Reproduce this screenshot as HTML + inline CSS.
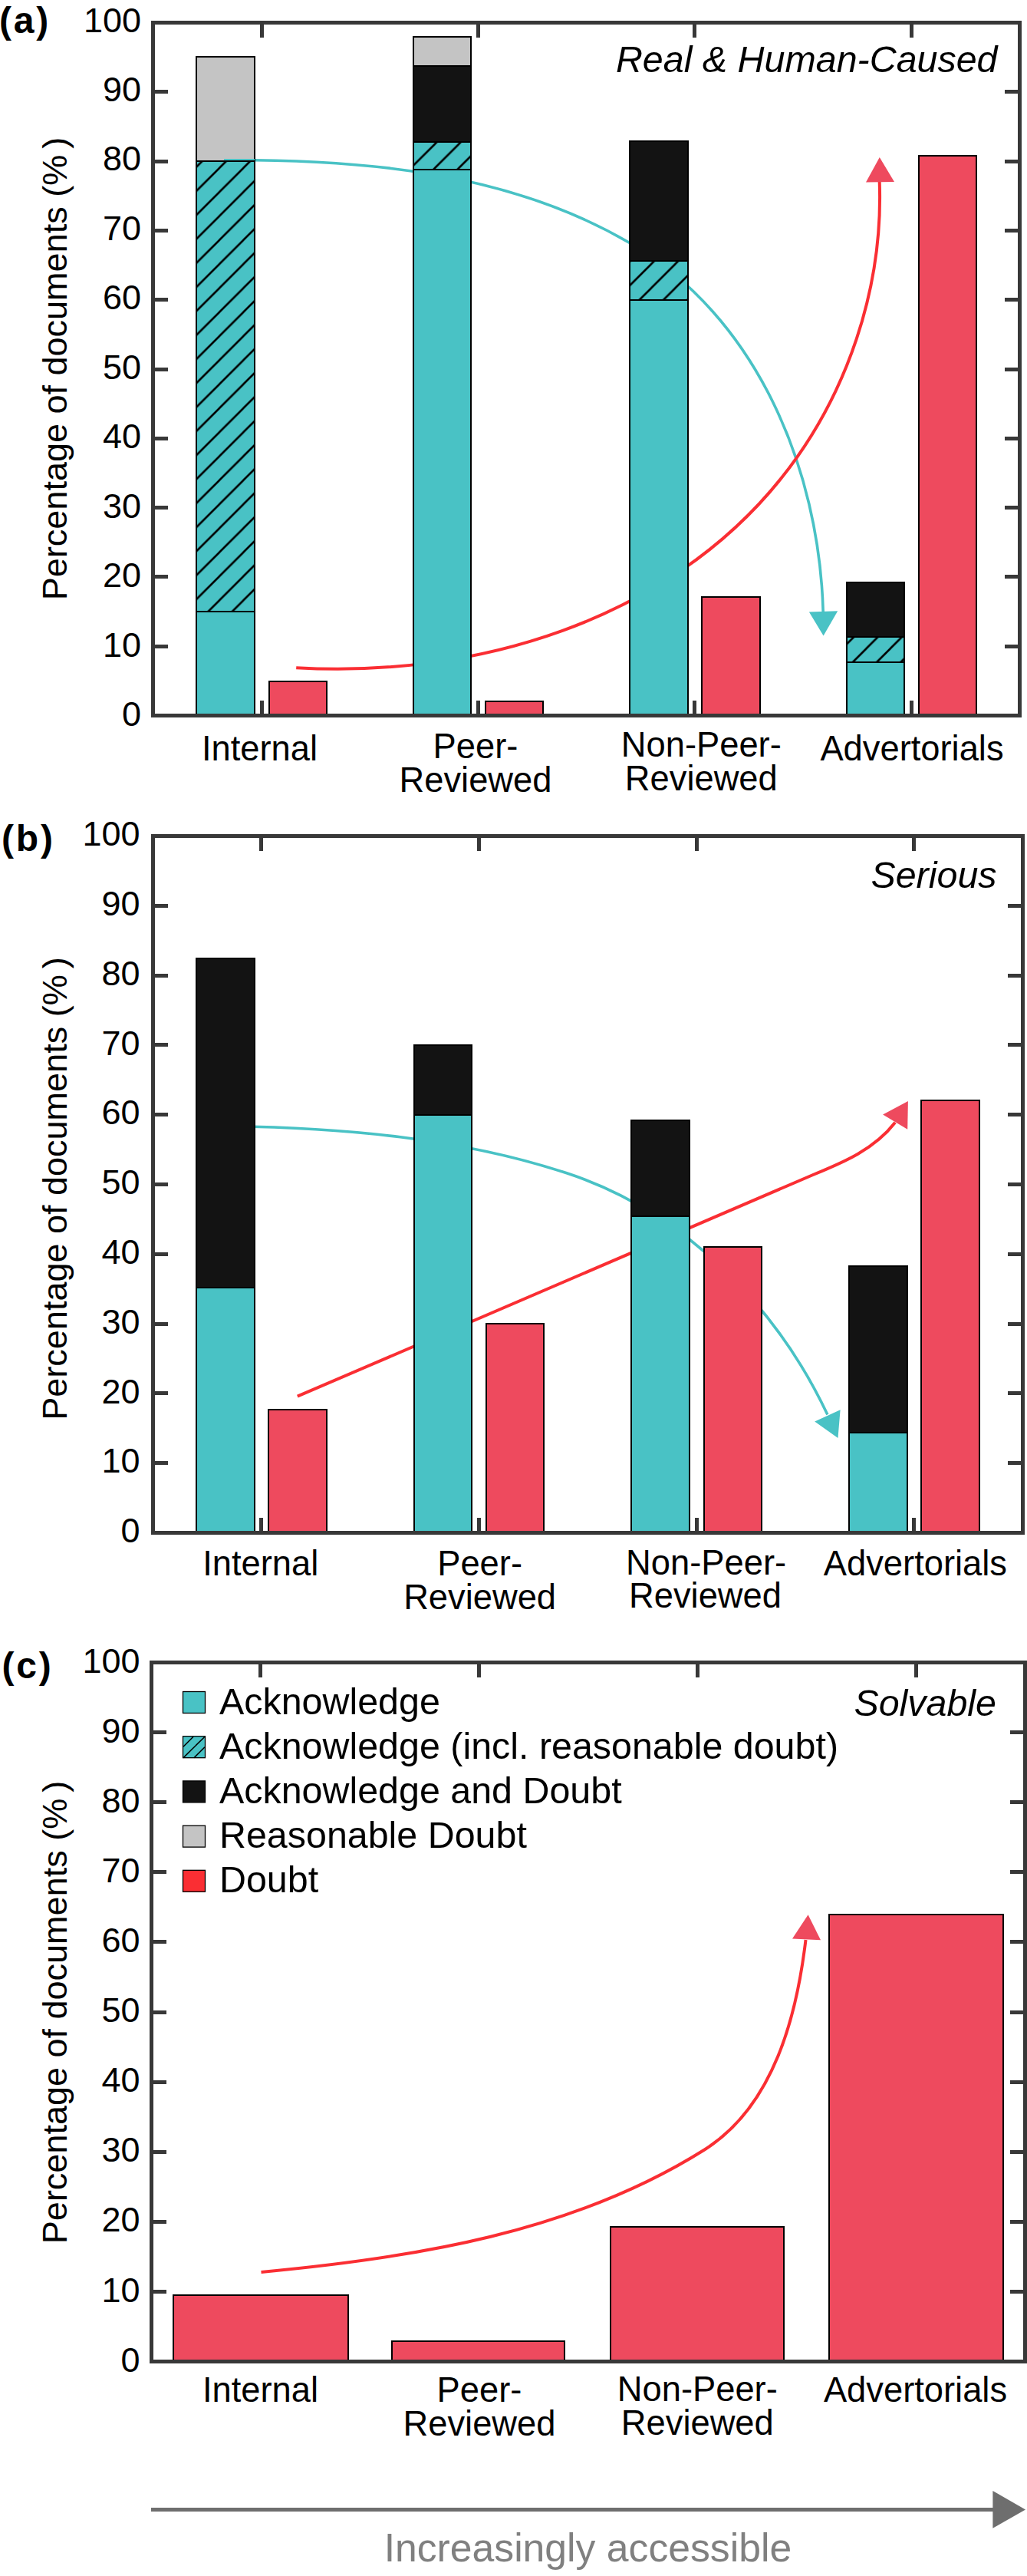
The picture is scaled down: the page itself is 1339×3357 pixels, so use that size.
<!DOCTYPE html>
<html><head><meta charset="utf-8"><style>
html,body{margin:0;padding:0;background:#fff;}
svg{display:block;}
text{font-family:"Liberation Sans",sans-serif;}
</style></head><body>
<svg width="1339" height="3357" viewBox="0 0 1339 3357">
<rect width="1339" height="3357" fill="#fff"/>
<defs>
<pattern id="h0" patternUnits="userSpaceOnUse" x="4.2" y="0" width="31.3" height="31.3"><path d="M-2,2 L2,-2 M0,31.3 L31.3,0 M29.3,33.3 L33.3,29.3" stroke="#000" stroke-width="2.6"/></pattern>
<pattern id="h1" patternUnits="userSpaceOnUse" x="3.5" y="0" width="31.3" height="31.3"><path d="M-2,2 L2,-2 M0,31.3 L31.3,0 M29.3,33.3 L33.3,29.3" stroke="#000" stroke-width="2.6"/></pattern>
<pattern id="h2" patternUnits="userSpaceOnUse" x="3.8" y="0" width="31.3" height="31.3"><path d="M-2,2 L2,-2 M0,31.3 L31.3,0 M29.3,33.3 L33.3,29.3" stroke="#000" stroke-width="2.6"/></pattern>
<pattern id="h3" patternUnits="userSpaceOnUse" x="2.8" y="0" width="31.3" height="31.3"><path d="M-2,2 L2,-2 M0,31.3 L31.3,0 M29.3,33.3 L33.3,29.3" stroke="#000" stroke-width="2.6"/></pattern>
</defs>
<path d="M292.0,208.5 C471.9,207.7 661.5,223.5 820.0,316.0 C987.0,413.4 1067.8,610.2 1073.2,797.0" fill="none" stroke="#49C2C5" stroke-width="3.6"/>
<polygon points="1054.9,797.4 1092.2,796.2 1073.6,828.5" fill="#49C2C5"/>
<path d="M386.2,870.2 C617.9,883.8 869.5,810.0 1018.7,623.1 C1104.7,515.4 1151.7,375.0 1146.7,237.0" fill="none" stroke="#FA2E33" stroke-width="4"/>
<polygon points="1129,237.5 1166,237 1146.8,205" fill="#EE4A5E"/>
<rect x="256" y="797" width="76" height="136" fill="#49C2C5" stroke="#000" stroke-width="2"/>
<rect x="256" y="210" width="76" height="587" fill="#49C2C5" stroke="#000" stroke-width="2"/>
<rect x="256" y="210" width="76" height="587" fill="url(#h0)" stroke="#000" stroke-width="2"/>
<rect x="256" y="74" width="76" height="136" fill="#C4C4C4" stroke="#000" stroke-width="2"/>
<rect x="351" y="888" width="75" height="45" fill="#EE4A5E" stroke="#000" stroke-width="2"/>
<rect x="539" y="221" width="75" height="712" fill="#49C2C5" stroke="#000" stroke-width="2"/>
<rect x="539" y="185" width="75" height="36" fill="#49C2C5" stroke="#000" stroke-width="2"/>
<rect x="539" y="185" width="75" height="36" fill="url(#h1)" stroke="#000" stroke-width="2"/>
<rect x="539" y="86" width="75" height="99" fill="#131313" stroke="#000" stroke-width="2"/>
<rect x="539" y="48" width="75" height="38" fill="#C4C4C4" stroke="#000" stroke-width="2"/>
<rect x="633" y="914" width="75" height="19" fill="#EE4A5E" stroke="#000" stroke-width="2"/>
<rect x="821" y="391" width="76" height="542" fill="#49C2C5" stroke="#000" stroke-width="2"/>
<rect x="821" y="340" width="76" height="51" fill="#49C2C5" stroke="#000" stroke-width="2"/>
<rect x="821" y="340" width="76" height="51" fill="url(#h2)" stroke="#000" stroke-width="2"/>
<rect x="821" y="184" width="76" height="156" fill="#131313" stroke="#000" stroke-width="2"/>
<rect x="915" y="778" width="76" height="155" fill="#EE4A5E" stroke="#000" stroke-width="2"/>
<rect x="1104" y="863" width="75" height="70" fill="#49C2C5" stroke="#000" stroke-width="2"/>
<rect x="1104" y="830" width="75" height="33" fill="#49C2C5" stroke="#000" stroke-width="2"/>
<rect x="1104" y="830" width="75" height="33" fill="url(#h3)" stroke="#000" stroke-width="2"/>
<rect x="1104" y="759" width="75" height="71" fill="#131313" stroke="#000" stroke-width="2"/>
<rect x="1198" y="203" width="75" height="730" fill="#EE4A5E" stroke="#000" stroke-width="2"/>
<rect x="292" y="207" width="40" height="2" fill="#49C2C5"/>
<line x1="199.5" y1="842.5" x2="219" y2="842.5" stroke="#383838" stroke-width="5"/>
<line x1="1329.5" y1="842.5" x2="1310" y2="842.5" stroke="#383838" stroke-width="5"/>
<line x1="199.5" y1="751.5" x2="219" y2="751.5" stroke="#383838" stroke-width="5"/>
<line x1="1329.5" y1="751.5" x2="1310" y2="751.5" stroke="#383838" stroke-width="5"/>
<line x1="199.5" y1="661.5" x2="219" y2="661.5" stroke="#383838" stroke-width="5"/>
<line x1="1329.5" y1="661.5" x2="1310" y2="661.5" stroke="#383838" stroke-width="5"/>
<line x1="199.5" y1="571.5" x2="219" y2="571.5" stroke="#383838" stroke-width="5"/>
<line x1="1329.5" y1="571.5" x2="1310" y2="571.5" stroke="#383838" stroke-width="5"/>
<line x1="199.5" y1="481.5" x2="219" y2="481.5" stroke="#383838" stroke-width="5"/>
<line x1="1329.5" y1="481.5" x2="1310" y2="481.5" stroke="#383838" stroke-width="5"/>
<line x1="199.5" y1="390.5" x2="219" y2="390.5" stroke="#383838" stroke-width="5"/>
<line x1="1329.5" y1="390.5" x2="1310" y2="390.5" stroke="#383838" stroke-width="5"/>
<line x1="199.5" y1="300.5" x2="219" y2="300.5" stroke="#383838" stroke-width="5"/>
<line x1="1329.5" y1="300.5" x2="1310" y2="300.5" stroke="#383838" stroke-width="5"/>
<line x1="199.5" y1="210.5" x2="219" y2="210.5" stroke="#383838" stroke-width="5"/>
<line x1="1329.5" y1="210.5" x2="1310" y2="210.5" stroke="#383838" stroke-width="5"/>
<line x1="199.5" y1="119.5" x2="219" y2="119.5" stroke="#383838" stroke-width="5"/>
<line x1="1329.5" y1="119.5" x2="1310" y2="119.5" stroke="#383838" stroke-width="5"/>
<line x1="341.5" y1="29.5" x2="341.5" y2="49" stroke="#383838" stroke-width="5"/>
<line x1="341.5" y1="932.5" x2="341.5" y2="913" stroke="#383838" stroke-width="5"/>
<line x1="623.5" y1="29.5" x2="623.5" y2="49" stroke="#383838" stroke-width="5"/>
<line x1="623.5" y1="932.5" x2="623.5" y2="913" stroke="#383838" stroke-width="5"/>
<line x1="905.5" y1="29.5" x2="905.5" y2="49" stroke="#383838" stroke-width="5"/>
<line x1="905.5" y1="932.5" x2="905.5" y2="913" stroke="#383838" stroke-width="5"/>
<line x1="1188.5" y1="29.5" x2="1188.5" y2="49" stroke="#383838" stroke-width="5"/>
<line x1="1188.5" y1="932.5" x2="1188.5" y2="913" stroke="#383838" stroke-width="5"/>
<rect x="199.5" y="29.5" width="1130" height="903" fill="none" stroke="#383838" stroke-width="5"/>
<path d="M300.0,1467.5 C447.6,1470.1 597.9,1482.5 738.9,1528.8 C891.2,1578.8 1011.4,1700.6 1078.9,1843.6" fill="none" stroke="#49C2C5" stroke-width="3.6"/>
<polygon points="1062.2,1852.5 1095.6,1837.2 1092.5,1874" fill="#49C2C5"/>
<path d="M387.8,1819.7 L1060,1531 C1099.88,1514.76 1139.68,1498.04 1167.1,1462.8" fill="none" stroke="#FA2E33" stroke-width="4"/>
<polygon points="1151.1,1452.4 1183.9,1435 1183.2,1471.8" fill="#EE4A5E"/>
<rect x="256" y="1678" width="76" height="320" fill="#49C2C5" stroke="#000" stroke-width="2"/>
<rect x="256" y="1249" width="76" height="429" fill="#131313" stroke="#000" stroke-width="2"/>
<rect x="350" y="1837" width="76" height="161" fill="#EE4A5E" stroke="#000" stroke-width="2"/>
<rect x="540" y="1453" width="75" height="545" fill="#49C2C5" stroke="#000" stroke-width="2"/>
<rect x="540" y="1362" width="75" height="91" fill="#131313" stroke="#000" stroke-width="2"/>
<rect x="634" y="1725" width="75" height="273" fill="#EE4A5E" stroke="#000" stroke-width="2"/>
<rect x="823" y="1585" width="76" height="413" fill="#49C2C5" stroke="#000" stroke-width="2"/>
<rect x="823" y="1460" width="76" height="125" fill="#131313" stroke="#000" stroke-width="2"/>
<rect x="918" y="1625" width="75" height="373" fill="#EE4A5E" stroke="#000" stroke-width="2"/>
<rect x="1107" y="1867" width="76" height="131" fill="#49C2C5" stroke="#000" stroke-width="2"/>
<rect x="1107" y="1650" width="76" height="217" fill="#131313" stroke="#000" stroke-width="2"/>
<rect x="1201" y="1434" width="76" height="564" fill="#EE4A5E" stroke="#000" stroke-width="2"/>
<line x1="199.5" y1="1906.5" x2="219" y2="1906.5" stroke="#383838" stroke-width="5"/>
<line x1="1333.5" y1="1906.5" x2="1314" y2="1906.5" stroke="#383838" stroke-width="5"/>
<line x1="199.5" y1="1815.5" x2="219" y2="1815.5" stroke="#383838" stroke-width="5"/>
<line x1="1333.5" y1="1815.5" x2="1314" y2="1815.5" stroke="#383838" stroke-width="5"/>
<line x1="199.5" y1="1725.5" x2="219" y2="1725.5" stroke="#383838" stroke-width="5"/>
<line x1="1333.5" y1="1725.5" x2="1314" y2="1725.5" stroke="#383838" stroke-width="5"/>
<line x1="199.5" y1="1634.5" x2="219" y2="1634.5" stroke="#383838" stroke-width="5"/>
<line x1="1333.5" y1="1634.5" x2="1314" y2="1634.5" stroke="#383838" stroke-width="5"/>
<line x1="199.5" y1="1543.5" x2="219" y2="1543.5" stroke="#383838" stroke-width="5"/>
<line x1="1333.5" y1="1543.5" x2="1314" y2="1543.5" stroke="#383838" stroke-width="5"/>
<line x1="199.5" y1="1452.5" x2="219" y2="1452.5" stroke="#383838" stroke-width="5"/>
<line x1="1333.5" y1="1452.5" x2="1314" y2="1452.5" stroke="#383838" stroke-width="5"/>
<line x1="199.5" y1="1361.5" x2="219" y2="1361.5" stroke="#383838" stroke-width="5"/>
<line x1="1333.5" y1="1361.5" x2="1314" y2="1361.5" stroke="#383838" stroke-width="5"/>
<line x1="199.5" y1="1271.5" x2="219" y2="1271.5" stroke="#383838" stroke-width="5"/>
<line x1="1333.5" y1="1271.5" x2="1314" y2="1271.5" stroke="#383838" stroke-width="5"/>
<line x1="199.5" y1="1180.5" x2="219" y2="1180.5" stroke="#383838" stroke-width="5"/>
<line x1="1333.5" y1="1180.5" x2="1314" y2="1180.5" stroke="#383838" stroke-width="5"/>
<line x1="340.5" y1="1089.5" x2="340.5" y2="1109" stroke="#383838" stroke-width="5"/>
<line x1="340.5" y1="1997.5" x2="340.5" y2="1978" stroke="#383838" stroke-width="5"/>
<line x1="624.5" y1="1089.5" x2="624.5" y2="1109" stroke="#383838" stroke-width="5"/>
<line x1="624.5" y1="1997.5" x2="624.5" y2="1978" stroke="#383838" stroke-width="5"/>
<line x1="908.5" y1="1089.5" x2="908.5" y2="1109" stroke="#383838" stroke-width="5"/>
<line x1="908.5" y1="1997.5" x2="908.5" y2="1978" stroke="#383838" stroke-width="5"/>
<line x1="1191.5" y1="1089.5" x2="1191.5" y2="1109" stroke="#383838" stroke-width="5"/>
<line x1="1191.5" y1="1997.5" x2="1191.5" y2="1978" stroke="#383838" stroke-width="5"/>
<rect x="199.5" y="1089.5" width="1134" height="908" fill="none" stroke="#383838" stroke-width="5"/>
<path d="M340.5,2960.9 C539.2,2942.5 747.0,2909.5 918.9,2801.2 C1009.1,2744.4 1038.9,2626.1 1050.5,2527.9" fill="none" stroke="#FA2E33" stroke-width="4"/>
<polygon points="1033,2526.5 1070,2528.3 1053.6,2495.2" fill="#EE4A5E"/>
<rect x="226" y="2991" width="228" height="87" fill="#EE4A5E" stroke="#000" stroke-width="2"/>
<rect x="511" y="3051" width="225" height="27" fill="#EE4A5E" stroke="#000" stroke-width="2"/>
<rect x="796" y="2902" width="226" height="176" fill="#EE4A5E" stroke="#000" stroke-width="2"/>
<rect x="1081" y="2495" width="227" height="583" fill="#EE4A5E" stroke="#000" stroke-width="2"/>
<line x1="197.5" y1="2986.5" x2="217" y2="2986.5" stroke="#383838" stroke-width="5"/>
<line x1="1336.5" y1="2986.5" x2="1317" y2="2986.5" stroke="#383838" stroke-width="5"/>
<line x1="197.5" y1="2895.5" x2="217" y2="2895.5" stroke="#383838" stroke-width="5"/>
<line x1="1336.5" y1="2895.5" x2="1317" y2="2895.5" stroke="#383838" stroke-width="5"/>
<line x1="197.5" y1="2804.5" x2="217" y2="2804.5" stroke="#383838" stroke-width="5"/>
<line x1="1336.5" y1="2804.5" x2="1317" y2="2804.5" stroke="#383838" stroke-width="5"/>
<line x1="197.5" y1="2713.5" x2="217" y2="2713.5" stroke="#383838" stroke-width="5"/>
<line x1="1336.5" y1="2713.5" x2="1317" y2="2713.5" stroke="#383838" stroke-width="5"/>
<line x1="197.5" y1="2622.5" x2="217" y2="2622.5" stroke="#383838" stroke-width="5"/>
<line x1="1336.5" y1="2622.5" x2="1317" y2="2622.5" stroke="#383838" stroke-width="5"/>
<line x1="197.5" y1="2530.5" x2="217" y2="2530.5" stroke="#383838" stroke-width="5"/>
<line x1="1336.5" y1="2530.5" x2="1317" y2="2530.5" stroke="#383838" stroke-width="5"/>
<line x1="197.5" y1="2439.5" x2="217" y2="2439.5" stroke="#383838" stroke-width="5"/>
<line x1="1336.5" y1="2439.5" x2="1317" y2="2439.5" stroke="#383838" stroke-width="5"/>
<line x1="197.5" y1="2348.5" x2="217" y2="2348.5" stroke="#383838" stroke-width="5"/>
<line x1="1336.5" y1="2348.5" x2="1317" y2="2348.5" stroke="#383838" stroke-width="5"/>
<line x1="197.5" y1="2257.5" x2="217" y2="2257.5" stroke="#383838" stroke-width="5"/>
<line x1="1336.5" y1="2257.5" x2="1317" y2="2257.5" stroke="#383838" stroke-width="5"/>
<line x1="339.5" y1="2166.5" x2="339.5" y2="2186" stroke="#383838" stroke-width="5"/>
<line x1="624.5" y1="2166.5" x2="624.5" y2="2186" stroke="#383838" stroke-width="5"/>
<line x1="909.5" y1="2166.5" x2="909.5" y2="2186" stroke="#383838" stroke-width="5"/>
<line x1="1194.5" y1="2166.5" x2="1194.5" y2="2186" stroke="#383838" stroke-width="5"/>
<rect x="197.5" y="2166.5" width="1139" height="911" fill="none" stroke="#383838" stroke-width="5"/>
<rect x="238.5" y="2204.5" width="29" height="28" fill="#49C2C5" stroke="#000" stroke-width="1.3"/>
<text x="286" y="2233.5" font-size="48.4" text-anchor="start" fill="#000">Acknowledge</text>
<rect x="238.5" y="2262.7" width="29" height="28" fill="#49C2C5" stroke="#000" stroke-width="1.3"/>
<g stroke="#000" stroke-width="1.6"><line x1="239" y1="2276.2" x2="252" y2="2263.2"/><line x1="239" y1="2290.7" x2="267" y2="2263.2"/><line x1="253" y1="2290.7" x2="267" y2="2276.7"/></g>
<text x="286" y="2291.7" font-size="48.4" text-anchor="start" fill="#000">Acknowledge (incl. reasonable doubt)</text>
<rect x="238.5" y="2320.9" width="29" height="28" fill="#131313" stroke="#000" stroke-width="1.3"/>
<text x="286" y="2349.9" font-size="48.4" text-anchor="start" fill="#000">Acknowledge and Doubt</text>
<rect x="238.5" y="2379.1" width="29" height="28" fill="#C4C4C4" stroke="#000" stroke-width="1.3"/>
<text x="286" y="2408.1" font-size="48.4" text-anchor="start" fill="#000">Reasonable Doubt</text>
<rect x="238.5" y="2437.3" width="29" height="28" fill="#FA2E33" stroke="#000" stroke-width="1.3"/>
<text x="286" y="2466.3" font-size="48.4" text-anchor="start" fill="#000">Doubt</text>
<text x="184" y="946.11" text-anchor="end" font-size="45">0</text>
<text x="184" y="855.65" text-anchor="end" font-size="45">10</text>
<text x="184" y="765.19" text-anchor="end" font-size="45">20</text>
<text x="184" y="674.73" text-anchor="end" font-size="45">30</text>
<text x="184" y="584.27" text-anchor="end" font-size="45">40</text>
<text x="184" y="493.81" text-anchor="end" font-size="45">50</text>
<text x="184" y="403.35" text-anchor="end" font-size="45">60</text>
<text x="184" y="312.89" text-anchor="end" font-size="45">70</text>
<text x="184" y="222.43" text-anchor="end" font-size="45">80</text>
<text x="184" y="131.97" text-anchor="end" font-size="45">90</text>
<text x="184" y="41.51" text-anchor="end" font-size="45">100</text>
<text x="182.5" y="2010.11" text-anchor="end" font-size="45">0</text>
<text x="182.5" y="1919.31" text-anchor="end" font-size="45">10</text>
<text x="182.5" y="1828.51" text-anchor="end" font-size="45">20</text>
<text x="182.5" y="1737.71" text-anchor="end" font-size="45">30</text>
<text x="182.5" y="1646.91" text-anchor="end" font-size="45">40</text>
<text x="182.5" y="1556.11" text-anchor="end" font-size="45">50</text>
<text x="182.5" y="1465.31" text-anchor="end" font-size="45">60</text>
<text x="182.5" y="1374.51" text-anchor="end" font-size="45">70</text>
<text x="182.5" y="1283.71" text-anchor="end" font-size="45">80</text>
<text x="182.5" y="1192.91" text-anchor="end" font-size="45">90</text>
<text x="182.5" y="1102.11" text-anchor="end" font-size="45">100</text>
<text x="182.5" y="3090.61" text-anchor="end" font-size="45">0</text>
<text x="182.5" y="2999.51" text-anchor="end" font-size="45">10</text>
<text x="182.5" y="2908.41" text-anchor="end" font-size="45">20</text>
<text x="182.5" y="2817.31" text-anchor="end" font-size="45">30</text>
<text x="182.5" y="2726.21" text-anchor="end" font-size="45">40</text>
<text x="182.5" y="2635.11" text-anchor="end" font-size="45">50</text>
<text x="182.5" y="2544.01" text-anchor="end" font-size="45">60</text>
<text x="182.5" y="2452.91" text-anchor="end" font-size="45">70</text>
<text x="182.5" y="2361.81" text-anchor="end" font-size="45">80</text>
<text x="182.5" y="2270.71" text-anchor="end" font-size="45">90</text>
<text x="182.5" y="2179.61" text-anchor="end" font-size="45">100</text>
<text x="-1" y="42.5" font-size="48" text-anchor="start" fill="#000" letter-spacing="2.8" font-weight="bold">(a)</text>
<text x="2" y="1108.5" font-size="48" text-anchor="start" fill="#000" letter-spacing="2.8" font-weight="bold">(b)</text>
<text x="2.5" y="2186.7" font-size="48" text-anchor="start" fill="#000" letter-spacing="2.8" font-weight="bold">(c)</text>
<text x="1300.5" y="94" font-size="48.4" text-anchor="end" fill="#000" font-style="italic">Real &amp; Human-Caused</text>
<text x="1299.5" y="1156.5" font-size="48.4" text-anchor="end" fill="#000" font-style="italic">Serious</text>
<text x="1299" y="2236" font-size="48.4" text-anchor="end" fill="#000" font-style="italic">Solvable</text>
<text transform="translate(87,480.5) rotate(-90)" text-anchor="middle" font-size="45">Percentage of documents (%<tspan dx="8">)</tspan></text>
<text transform="translate(87,1549) rotate(-90)" text-anchor="middle" font-size="45">Percentage of documents (%<tspan dx="8">)</tspan></text>
<text transform="translate(87,2622.5) rotate(-90)" text-anchor="middle" font-size="45">Percentage of documents (%<tspan dx="8">)</tspan></text>
<text x="338.5" y="990.5" font-size="45.3" text-anchor="middle" fill="#000">Internal</text>
<text x="620" y="988.3" font-size="45.3" text-anchor="middle" fill="#000">Peer-</text>
<text x="620" y="1031.5" font-size="45.3" text-anchor="middle" fill="#000">Reviewed</text>
<text x="914.3" y="986" font-size="45.3" text-anchor="middle" fill="#000">Non-Peer-</text>
<text x="914.3" y="1030.4" font-size="45.3" text-anchor="middle" fill="#000">Reviewed</text>
<text x="1189" y="990.5" font-size="45.3" text-anchor="middle" fill="#000">Advertorials</text>
<text x="339.7" y="2053" font-size="45.3" text-anchor="middle" fill="#000">Internal</text>
<text x="625.6" y="2053" font-size="45.3" text-anchor="middle" fill="#000">Peer-</text>
<text x="625.6" y="2096.8" font-size="45.3" text-anchor="middle" fill="#000">Reviewed</text>
<text x="920.6" y="2051.9" font-size="45.3" text-anchor="middle" fill="#000">Non-Peer-</text>
<text x="919.5" y="2094.5" font-size="45.3" text-anchor="middle" fill="#000">Reviewed</text>
<text x="1193.4" y="2052.5" font-size="45.3" text-anchor="middle" fill="#000">Advertorials</text>
<text x="339.5" y="3130" font-size="45.3" text-anchor="middle" fill="#000">Internal</text>
<text x="625" y="3130" font-size="45.3" text-anchor="middle" fill="#000">Peer-</text>
<text x="625" y="3174" font-size="45.3" text-anchor="middle" fill="#000">Reviewed</text>
<text x="909.3" y="3128.5" font-size="45.3" text-anchor="middle" fill="#000">Non-Peer-</text>
<text x="909.3" y="3173" font-size="45.3" text-anchor="middle" fill="#000">Reviewed</text>
<text x="1193.5" y="3129.5" font-size="45.3" text-anchor="middle" fill="#000">Advertorials</text>
<line x1="197" y1="3270.5" x2="1300" y2="3270.5" stroke="#6E6E6E" stroke-width="5"/>
<polygon points="1294.4,3245.9 1294.4,3294.8 1337,3270.5" fill="#6E6E6E"/>
<text x="766.4" y="3338.2" font-size="51.7" text-anchor="middle" fill="#808080">Increasingly accessible</text>
</svg></body></html>
